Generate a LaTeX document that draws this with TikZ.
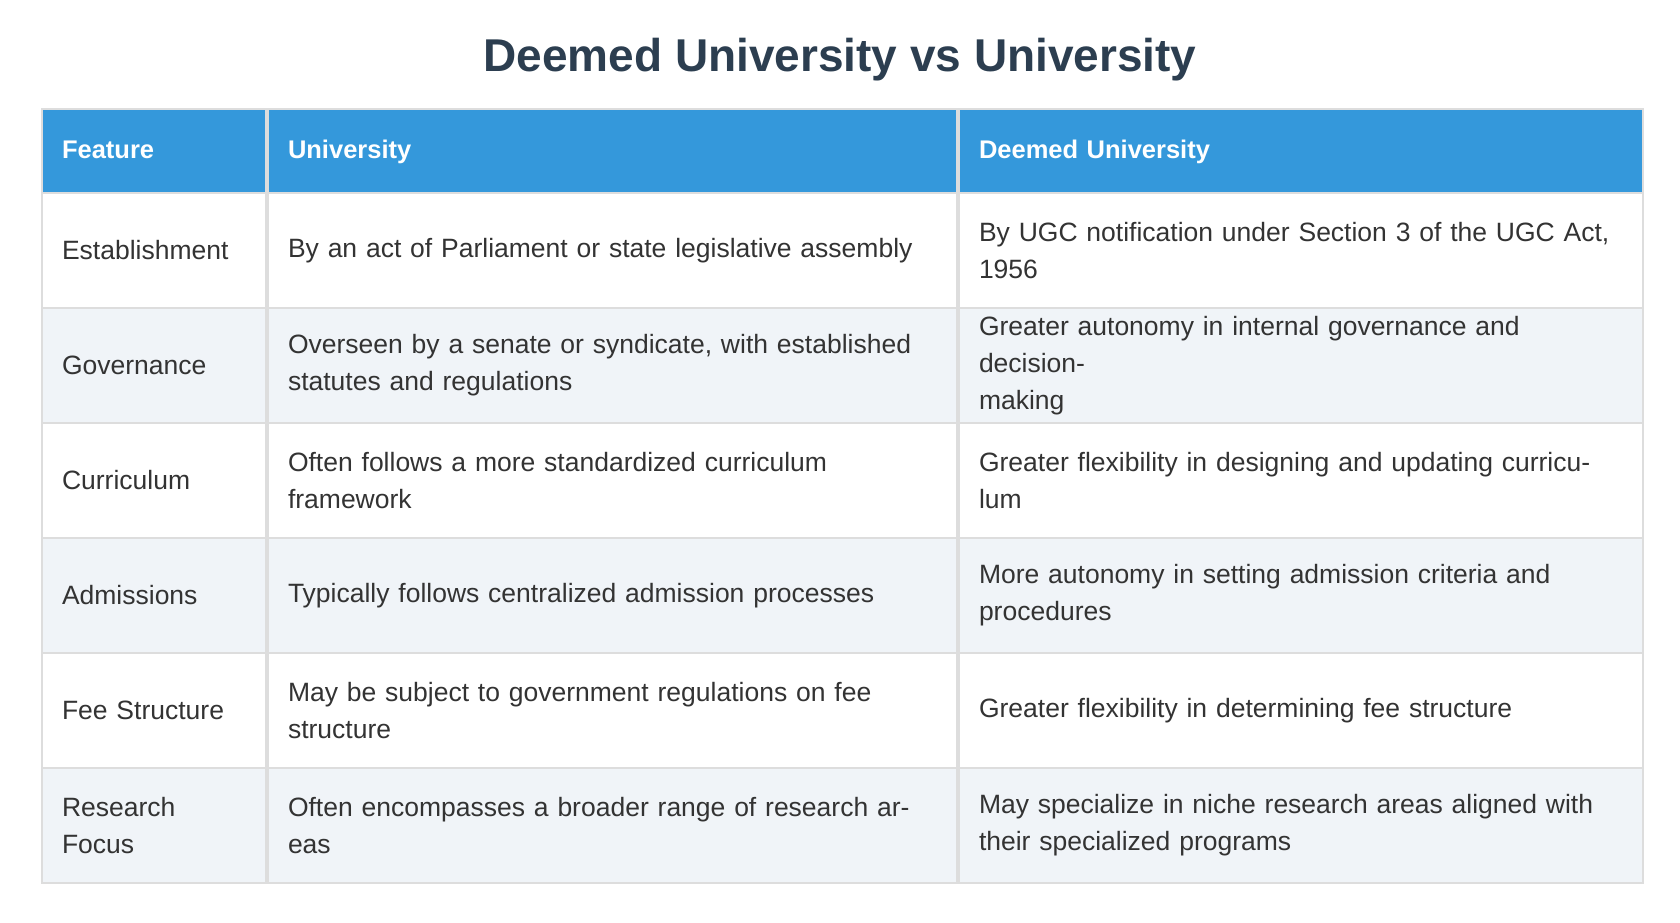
\documentclass[tikz,border=0pt]{standalone}
\usepackage{fontspec}
\setmainfont{Liberation Sans}
\definecolor{headblue}{HTML}{3498DB}
\definecolor{rowgray}{HTML}{F0F4F8}
\definecolor{gridgray}{HTML}{DDDDDD}
\definecolor{bodytext}{HTML}{333333}
\definecolor{titleblue}{HTML}{2C3E50}
\begin{document}
\begin{tikzpicture}[
    x=1pt, y=-1pt,
    % Cell styles
    cell/.style={draw=gridgray, line width=2pt, anchor=north west, inner xsep=20pt, inner ysep=0pt,
        align=left, text=bodytext, font=\fontsize{26.5}{37}\selectfont},
    headcell/.style={cell, fill=headblue, text=white, font=\fontsize{25.5}{37}\selectfont\bfseries, minimum height=84pt},
    bodycell/.style={cell, minimum height=115pt},
    featcol/.style={minimum width=224pt, text width=184pt},
    unicol/.style={minimum width=689pt, text width=649pt},
    deemcol/.style={minimum width=684pt, text width=644pt},
]
\useasboundingbox (0,0) rectangle (1680,922);

% Title
\node[font=\fontsize{46}{50}\selectfont\bfseries, text=titleblue] (title) at (840,60) {Deemed University vs University};

% === HEADER ===
\node[headcell, featcol] (h1) at (41,108) {\strut Feature};
\node[headcell, unicol] (h2) at (h1.north east) {\strut University};
\node[headcell, deemcol] (h3) at (h2.north east) {\strut Deemed University};

% === BODY ROWS ===
\foreach \feat/\uni/\deem [count=\i] in {
    Establishment/{By an act of Parliament or state legislative assembly}/{By UGC notification under Section 3 of the UGC Act,\\1956},
    Governance/{Overseen by a senate or syndicate, with established\\statutes and regulations}/{Greater autonomy in internal governance and decision-\\making},
    Curriculum/{Often follows a more standardized curriculum\\framework}/{Greater flexibility in designing and updating curriculum},
    Admissions/{Typically follows centralized admission processes}/{More autonomy in setting admission criteria and\\procedures},
    Fee Structure/{May be subject to government regulations on fee\\structure}/{Greater flexibility in determining fee structure},
    {Research\\Focus}/{Often encompasses a broader range of research areas}/{May specialize in niche research areas aligned with\\their specialized programs}
}{
    \pgfmathsetmacro{\shade}{mod(\i,2)==0 ? 100 : 0}
    \node[bodycell, featcol, fill=rowgray!\shade!white] (f\i) at (41,{192+115*(\i-1)}) {\feat};
    \node[bodycell, unicol, fill=rowgray!\shade!white] (u\i) at (f\i.north east) {\uni};
    \node[bodycell, deemcol, fill=rowgray!\shade!white] (d\i) at (u\i.north east) {\deem};
}
\end{tikzpicture}
\end{document}
